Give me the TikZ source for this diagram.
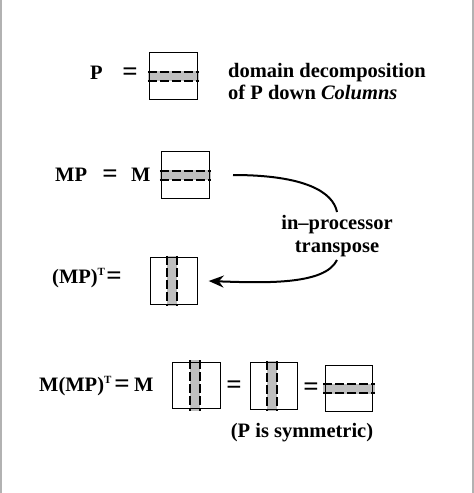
\documentclass[tikz,border=0pt]{standalone}
\usepackage{fontspec}
\setmainfont{Liberation Serif}
\usetikzlibrary{arrows.meta,positioning}

\tikzset{
  lbl/.style={font=\bfseries\fontsize{20.5}{23}\selectfont, inner sep=0pt, anchor=base west},
  eqs/.style={font=\bfseries\fontsize{27}{27}\selectfont, inner sep=0pt, anchor=base},
  mat/.style={minimum width=47pt, minimum height=46pt, inner sep=0pt},
  edge/.style={line width=0.9pt},
  band/.style={fill=gray!50},
  cut/.style={line width=2pt, dash pattern=on 9pt off 3pt},
  conn/.style={line width=2pt},
}
\newcommand{\supT}{\textsuperscript{\fontsize{11}{11}\selectfont T}}

% row decomposed matrix
\newcommand{\rowmat}[2]{%
  \node[mat] (#1) at (#2) {};
  \fill[band] ([xshift=-2pt,yshift=5pt]#1.west) rectangle ([xshift=2pt,yshift=-5pt]#1.east);
  \draw[edge] (#1.south west) rectangle (#1.north east);
  \draw[cut] ([xshift=-2pt,yshift=4.5pt]#1.west) -- ([xshift=2pt,yshift=4.5pt]#1.east);
  \draw[cut] ([xshift=-2pt,yshift=-4.5pt]#1.west) -- ([xshift=2pt,yshift=-4.5pt]#1.east);
}
% column decomposed matrix
\newcommand{\colmat}[2]{%
  \node[mat] (#1) at (#2) {};
  \fill[band] ([xshift=-7pt,yshift=2pt]#1.north) rectangle ([xshift=3pt,yshift=-2pt]#1.south);
  \draw[edge] (#1.south west) rectangle (#1.north east);
  \draw[cut] ([xshift=-7pt,yshift=2pt]#1.north) -- ([xshift=-7pt,yshift=-2pt]#1.south);
  \draw[cut] ([xshift=3pt,yshift=2pt]#1.north) -- ([xshift=3pt,yshift=-2pt]#1.south);
}

\begin{document}
\begin{tikzpicture}[x=1pt,y=-1pt]
\useasboundingbox (0,0) rectangle (474,493);
\draw[gray!60, line width=2.5pt] (1.2,0) -- (1.2,493);
\draw[gray!60, line width=2.5pt] (472.8,0) -- (472.8,493);

% P
\node[lbl] (p) at (90,79) {P};
\node[eqs] (eq1) at (130,80) {=};
\rowmat{b1}{173.5,76}
\node[lbl] (dd) at (228,77) {domain decomposition};
\node[lbl] (dd2) at (228,99) {of P down \textit{Columns}};

% MP
\node[lbl] (mp) at (55,181) {MP};
\node[eqs] (eq2) at (110,182) {=};
\node[lbl] (m2) at (131,181) {M};
\rowmat{b2}{185.5,175}

% (MP)^T
\node[lbl] (mpt) at (52,283) {(MP)\supT};
\node[eqs] (eq3) at (114,284) {=};
\colmat{b3}{174,281}

% transpose
\node[lbl,anchor=center,align=center,inner sep=3pt] (tr) at (337,236) {in–processor\\transpose};
\coordinate (a0) at (233,175);
\draw[conn] (a0) .. controls (305,175) and (333,192) .. (tr.north);
\draw[conn,-{Stealth[length=15pt,width=12pt]}] (tr.south) .. controls (325,285) and (265,283) .. ([xshift=11pt]b3.east);

% M(MP)^T
\node[lbl] (mmpt) at (39,391) {M(MP)\supT};
\node[eqs] (eq4) at (122,392) {=};
\node[lbl] (m4) at (134,391) {M};
\colmat{b4}{196.5,385.5}
\node[eqs] (eq5) at (234,393) {=};
\colmat{b5}{274,386}
\node[eqs] (eq6) at (311,395) {=};
\rowmat{b6}{349,388.5}
\node[lbl,anchor=base] (sym) at (302,437) {(P is symmetric)};
\end{tikzpicture}
\end{document}
